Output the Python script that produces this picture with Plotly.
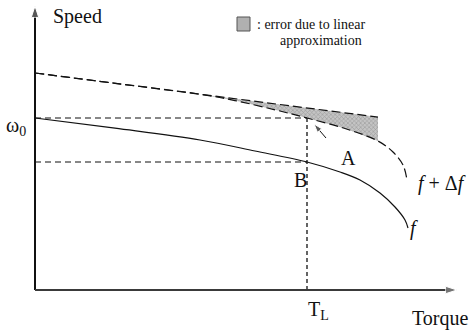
import plotly.graph_objects as go

# Speed-torque characteristic (arbitrary schematic units)
omega0 = 172          # no-load speed level
speed_B = 128         # speed of operating point B
T_L = 272             # load torque

# straight-line (linear) approximation of f + delta f
lin_T = [0, 343]
lin_S = [217, 172.9]

# f + delta f characteristic
fdf_T = [0, 80, 165, 200, 240, 272, 310, 343, 358, 368, 372]
fdf_S = [217, 206.7, 195.8, 189.4, 180.2, 172, 161.5, 149, 138, 125, 110]

# f characteristic
f_T = [0, 80, 165, 220, 272, 305, 325, 345, 360, 370, 373]
f_S = [172, 161.8, 150, 139, 128, 118, 110, 97, 83, 70, 62]

# region between the linear approximation and the real curve
err_T = [165, 343, 343, 310, 272, 240, 200, 165]
err_S = [195.8, 172.9, 149, 161.5, 172, 180.2, 189.4, 195.8]

FONT = "Liberation Serif"
INK = "#111111"

fig = go.Figure()

fig.add_trace(go.Scatter(
    x=err_T, y=err_S, mode="lines", fill="toself",
    line=dict(width=0, color="rgba(0,0,0,0)"),
    fillcolor="#a8a8a8",
    fillpattern=dict(shape="x", size=3, solidity=0.35, fgcolor="#6e6e6e", bgcolor="#c4c4c4"),
    hoverinfo="skip", showlegend=False))

fig.add_trace(go.Scatter(
    x=lin_T, y=lin_S, mode="lines",
    line=dict(color=INK, width=1.2, dash="9px,4px"), showlegend=False))

fig.add_trace(go.Scatter(
    x=fdf_T, y=fdf_S, mode="lines", line_shape="spline",
    line=dict(color=INK, width=1.2, dash="9px,4px"), showlegend=False))

fig.add_trace(go.Scatter(
    x=f_T, y=f_S, mode="lines", line_shape="spline",
    line=dict(color=INK, width=1.2), showlegend=False))

# guide lines to the operating points
fig.add_trace(go.Scatter(
    x=[0, T_L], y=[omega0, omega0], mode="lines",
    line=dict(color=INK, width=1.1, dash="6px,4px"), showlegend=False))
fig.add_trace(go.Scatter(
    x=[0, T_L], y=[speed_B, speed_B], mode="lines",
    line=dict(color=INK, width=1.1, dash="6px,4px"), showlegend=False))
fig.add_trace(go.Scatter(
    x=[T_L, T_L], y=[omega0, 0], mode="lines",
    line=dict(color=INK, width=1.3, dash="4px,3px"), showlegend=False))


def arrow(x0, y0, x1, y1, color, width, head):
    fig.add_trace(go.Scatter(
        x=[x0, x1], y=[y0, y1], mode="lines+markers",
        line=dict(color=color, width=width),
        marker=dict(symbol="arrow", angleref="previous", size=[0, head], color=color),
        hoverinfo="skip", showlegend=False))


# axes with arrow heads
arrow(0, 0, 0, 284, INK, 2, 12)
arrow(0, 0, 422, 0, "#3a3a3a", 2, 12)
# arrow from A toward the compensated operating point
arrow(291, 152, 279, 166, INK, 1, 9)

annotations = []


def label(text, x, y, size=20, xanchor="center"):
    annotations.append(dict(x=x, y=y, text=text, showarrow=False, xanchor=xanchor,
                            yanchor="middle", font=dict(family=FONT, size=size, color=INK)))


label("Speed", 42, 274)
label("Torque", 405, -28)
label("ω<sub>0</sub>", -19, 164)
label("T<sub>L</sub>", 283, -20)
label("A", 313, 132)
label("B", 265, 110)
label("<i>f</i> + Δ<i>f</i>", 407, 107)
label("<i>f</i>", 379, 62)
label(": error due to linear", 220, 266, size=14, xanchor="left")
label("approximation", 286, 250, size=14)

fig.update_layout(
    width=474, height=330,
    margin=dict(l=0, r=0, t=0, b=0),
    font=dict(family=FONT, color=INK),
    paper_bgcolor="white", plot_bgcolor="white",
    xaxis=dict(range=[-35, 439], visible=False, fixedrange=True),
    yaxis=dict(range=[-40, 290], visible=False, fixedrange=True),
    annotations=annotations,
    shapes=[dict(type="rect", xref="x", yref="y", x0=202, x1=215, y0=259, y1=273,
                 line=dict(color="#555555", width=1), fillcolor="#b0b0b0")],
)

fig.write_html("out.html")
